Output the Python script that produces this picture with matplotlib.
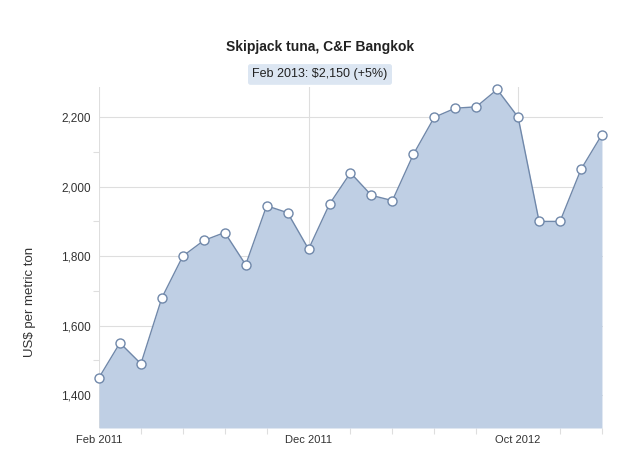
import matplotlib; matplotlib.use("Agg")
import matplotlib.pyplot as plt
from matplotlib.ticker import FixedLocator, MultipleLocator, FuncFormatter

plt.rcParams.update({"font.family": "sans-serif", "font.sans-serif": ["Liberation Sans", "DejaVu Sans"]})

# monthly prices Feb 2011 .. Feb 2013
months = ["Feb 2011", "Mar 2011", "Apr 2011", "May 2011", "Jun 2011", "Jul 2011", "Aug 2011",
          "Sep 2011", "Oct 2011", "Nov 2011", "Dec 2011", "Jan 2012", "Feb 2012", "Mar 2012",
          "Apr 2012", "May 2012", "Jun 2012", "Jul 2012", "Aug 2012", "Sep 2012", "Oct 2012",
          "Nov 2012", "Dec 2012", "Jan 2013", "Feb 2013"]
price = [1450, 1550, 1490, 1680, 1800, 1845, 1868, 1775, 1945, 1925, 1820, 1950, 2040, 1975,
         1960, 2093, 2200, 2226, 2230, 2280, 2200, 1900, 1900, 2050, 2150]
major_labels = ["Feb 2011", "Dec 2011", "Oct 2012"]

FILL = "#bfcfe4"; LINE = "#7088aa"; GRID = "#dedede"; INK = "#333333"
x = list(range(len(months)))
ymin, ymax = 1305, 2287

fig = plt.figure(figsize=(6.4, 4.54), dpi=100)
ax = fig.add_axes([0.1547, 0.0573, 0.7875, 0.751])
ax.fill_between(x, price, ymin, color=FILL, lw=0, zorder=1)
ax.plot(x, price, color=LINE, lw=1.0, zorder=3)
ax.plot(x, price, "o", ms=6.5, mfc="white", mec=LINE, mew=1.0, zorder=4, clip_on=False)

ax.set_xlim(0, len(months) - 1 + 0.05); ax.set_ylim(ymin, ymax)
ax.yaxis.set_major_locator(MultipleLocator(200))
ax.yaxis.set_minor_locator(MultipleLocator(100))
ax.yaxis.set_major_formatter(FuncFormatter(lambda v, p: f"{int(v):,}"))
ax.xaxis.set_major_locator(FixedLocator([months.index(m) for m in major_labels]))
ax.xaxis.set_minor_locator(FixedLocator(list(range(0, len(months), 2))))
ax.set_xticklabels(major_labels)
ax.grid(True, which="major", color=GRID, lw=0.8, zorder=0)
ax.set_axisbelow(True)
for sp in ax.spines.values(): sp.set_visible(False)
ax.tick_params(axis="y", which="major", length=0, labelsize=8.5, colors=INK, pad=6)
ax.tick_params(axis="x", which="major", length=0, labelsize=8, colors=INK, pad=5)
ax.tick_params(axis="y", which="minor", length=4, color=GRID, width=0.8)
ax.tick_params(axis="x", which="minor", length=4, color=GRID, width=0.8)
fig.text(30 / 640, 1 - 302 / 454, "US$ per metric ton", rotation=90, ha="center", va="center",
         fontsize=9.5, color=INK)

fig.text(0.5, 0.896, "Skipjack tuna, C&F Bangkok", ha="center", va="center",
         fontsize=10, fontweight="bold", color="#222222")
fig.text(0.5, 0.836, "Feb 2013: $2,150 (+5%)", ha="center", va="center", fontsize=9, color="#222222",
         bbox=dict(boxstyle="round,pad=0.35,rounding_size=0.2", fc="#dce6f2", ec="none"))

fig.savefig("out.png", dpi=100)
